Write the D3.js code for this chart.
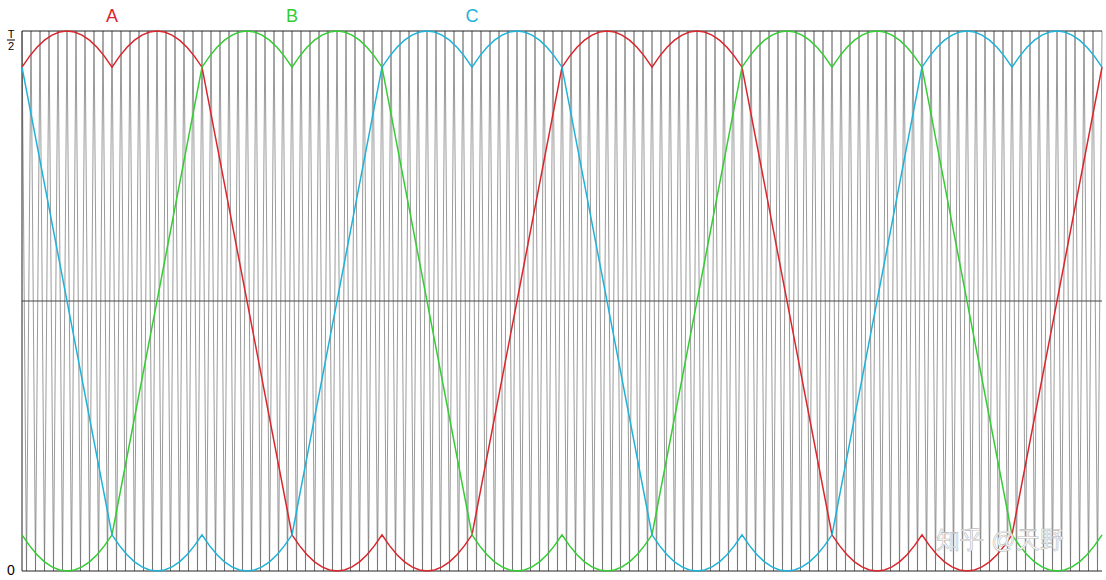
<!DOCTYPE html>
<html>
<head>
<meta charset="utf-8">
<script src="https://cdn.jsdelivr.net/npm/d3@7"></script>
<style>
  body { margin: 0; background: #fff; }
  text { font-family: Arial, "Liberation Sans", sans-serif; }
</style>
</head>
<body>
<svg id="chart" width="1106" height="580"></svg>
<script>
// one sinusoidal hump (60 deg wide, 5 deg steps), as fraction of half-amplitude
const hump = [0.866, 0.906, 0.940, 0.966, 0.985, 0.996, 1, 0.996, 0.985, 0.966, 0.940, 0.906, 0.866];
const phases = ['A', 'B', 'C'];
const phaseShift = [0, 120, 240]; // degrees
const colors = ['#d8262d', '#33cc33', '#1fb2d8'];
const modCycles = 2;
const carrierPerCycle = 60;

const W = 1106, H = 580;
const m = { l: 22, r: 4, t: 31, b: 9 };
const svg = d3.select('#chart');

const x = d3.scaleLinear().domain([0, 360 * modCycles]).range([m.l, W - m.r]);
const y = d3.scaleLinear().domain([-1, 1]).range([H - m.b, m.t]);

// one period of A from its segment pieces
const period = [];
hump.forEach((v, i) => period.push([i * 5, v]));
hump.forEach((v, i) => period.push([60 + i * 5, v]));
period.push([180, -hump[0]]);
hump.forEach((v, i) => period.push([180 + i * 5, -v]));
hump.forEach((v, i) => period.push([240 + i * 5, -v]));
period.push([360, hump[0]]);

function phaseData(shift) {
  const pts = [];
  for (let c = -1; c <= modCycles; c++) {
    period.forEach(([a, v]) => {
      const d = a + shift + c * 360;
      if (d >= 0 && d <= 360 * modCycles) pts.push([d, v]);
    });
  }
  return pts.sort((p, q) => p[0] - q[0]);
}

// carrier triangle
const nCar = carrierPerCycle * modCycles;
const carrier = [];
for (let k = 0; k <= nCar * 2; k++) carrier.push([k * 360 * modCycles / (nCar * 2), k % 2 === 0 ? 1 : -1]);

const line = d3.line().x(d => x(d[0])).y(d => y(d[1]));

svg.append('path').datum(carrier).attr('d', line)
  .attr('fill', 'none').attr('stroke', '#555').attr('stroke-width', 0.6);

// frame lines
svg.append('line').attr('x1', m.l).attr('x2', W - m.r).attr('y1', y(1)).attr('y2', y(1)).attr('stroke', '#222');
svg.append('line').attr('x1', m.l).attr('x2', W - m.r).attr('y1', y(0)).attr('y2', y(0)).attr('stroke', '#444');
svg.append('line').attr('x1', m.l).attr('x2', W - m.r).attr('y1', y(-1)).attr('y2', y(-1)).attr('stroke', '#222');
svg.append('line').attr('x1', m.l).attr('x2', m.l).attr('y1', y(1)).attr('y2', y(-1)).attr('stroke', '#222');

phases.forEach((p, i) => {
  svg.append('path').datum(phaseData(phaseShift[i])).attr('d', line)
    .attr('fill', 'none').attr('stroke', colors[i]).attr('stroke-width', 1.5);
  svg.append('text').attr('x', x(60 + phaseShift[i])).attr('y', 22)
    .attr('text-anchor', 'middle').attr('font-size', 18).attr('fill', colors[i]).text(p);
});

// y labels
const yl = svg.append('g').attr('font-size', 11);
yl.append('text').attr('x', 11).attr('y', 38).attr('text-anchor', 'middle').text('T');
yl.append('line').attr('x1', 7).attr('x2', 15).attr('y1', 40).attr('y2', 40).attr('stroke', '#000');
yl.append('text').attr('x', 11).attr('y', 50).attr('text-anchor', 'middle').text('2');
svg.append('text').attr('x', 7).attr('y', 575).attr('font-size', 14).text('0');

svg.append('text').attr('x', 1000).attr('y', 548).attr('text-anchor', 'middle')
  .attr('font-size', 24).attr('fill', '#fff').attr('stroke', '#bbb').attr('stroke-width', 0.6)
  .attr('font-family', 'Noto Sans CJK SC').text('知乎 @天野');
</script>
</body>
</html>
